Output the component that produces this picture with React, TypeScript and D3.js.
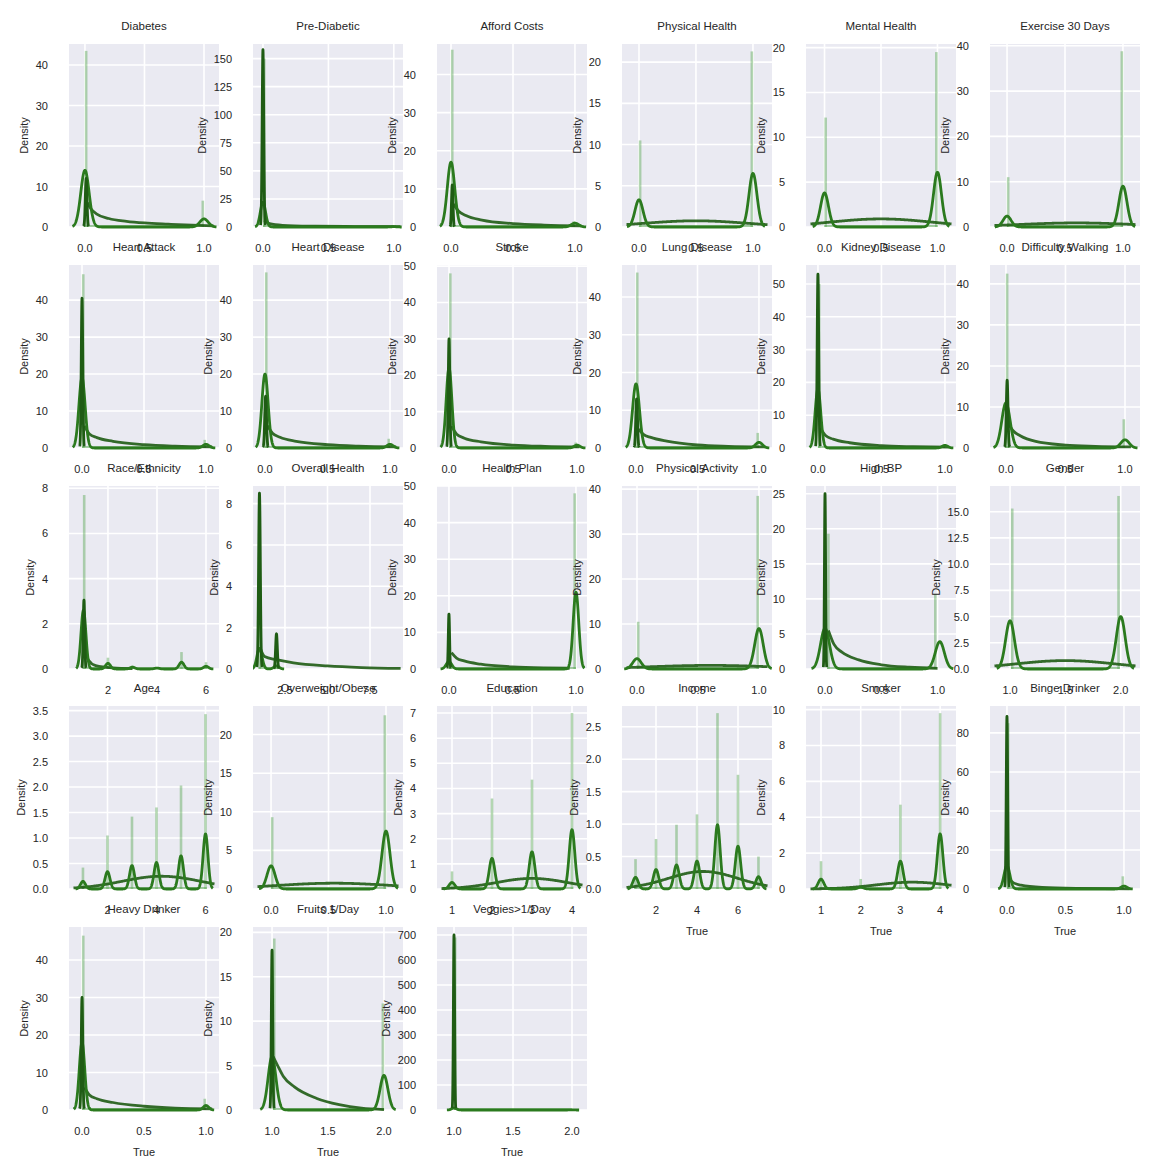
import React from 'react';
import * as d3 from 'd3';

// ---------- data ----------
const titles = [
  'Diabetes', 'Pre-Diabetic', 'Afford Costs', 'Physical Health', 'Mental Health', 'Exercise 30 Days',
  'Heart Attack', 'Heart Disease', 'Stroke', 'Lung Disease', 'Kidney Disease', 'Difficulty Walking',
  'Race/Ethnicity', 'Overall Health', 'Health Plan', 'Physical Activity', 'High BP', 'Gender',
  'Age', 'Overweight/Obese', 'Education', 'Income', 'Smoker', 'Binge Drinker',
  'Heavy Drinker', 'Fruits 1/Day', 'Veggies>1/Day',
];

const B = [0, 0.5, 1];
const xTicks: number[][] = [
  B, B, B, B, B, B,
  B, B, B, B, B, B,
  [2, 4, 6], [2.5, 5, 7.5], B, B, B, [1, 1.5, 2],
  [2, 4, 6], B, [1, 2, 3, 4], [2, 4, 6], [1, 2, 3, 4], B,
  B, [1, 1.5, 2], [1, 1.5, 2],
];

const xDomains: number[][] = [
  [-0.134, 1.126], [-0.076, 1.07], [-0.113, 1.097], [-0.149, 1.167], [-0.164, 1.164], [-0.147, 1.147],
  [-0.105, 1.105], [-0.096, 1.104], [-0.094, 1.078], [-0.114, 1.106], [-0.094, 1.087], [-0.134, 1.126],
  [0.41, 6.53], [0.62, 9.44], [-0.094, 1.087], [-0.123, 1.107], [-0.169, 1.164], [0.819, 2.174],
  [0.43, 6.55], [-0.157, 1.148], [0.625, 4.375], [0.34, 7.66], [0.622, 4.4], [-0.145, 1.137],
  [-0.105, 1.105], [0.83, 2.17], [0.856, 2.127],
];

const yMax = [
  45.2, 163, 48, 22.2, 20.4, 40.4,
  49.5, 49.5, 50.3, 48.5, 55.8, 44.6,
  8.1, 8.85, 50, 40.7, 26.1, 17.45,
  3.59, 23.7, 7.28, 2.82, 10.2, 93.8,
  48.8, 20.6, 732,
];

const T10 = [0, 10, 20, 30, 40];
const T5 = [0, 5, 10, 15, 20];
const yTicks: number[][] = [
  T10, [0, 25, 50, 75, 100, 125, 150], T10, T5, T5, T10,
  T10, T10, [0, 10, 20, 30, 40, 50], T10, [0, 10, 20, 30, 40, 50], T10,
  [0, 2, 4, 6, 8], [0, 2, 4, 6, 8], [0, 10, 20, 30, 40, 50], T10, [0, 5, 10, 15, 20, 25], [0, 2.5, 5, 7.5, 10, 12.5, 15],
  [0, 0.5, 1, 1.5, 2, 2.5, 3, 3.5], T5, [0, 1, 2, 3, 4, 5, 6, 7], [0, 0.5, 1, 1.5, 2, 2.5], [0, 2, 4, 6, 8, 10], [0, 20, 40, 60, 80],
  T10, T5, [0, 100, 200, 300, 400, 500, 600, 700],
];

// histogram bars: [x, density]
const bars: number[][][] = [
  [[0.01, 43.5], [0.99, 6.5]], [[0.01, 150], [0.99, 1]], [[0.01, 46.5], [0.99, 1.5]],
  [[0.01, 10.5], [0.99, 21.3]], [[0.01, 12.2], [0.99, 19.5]], [[0.01, 11], [0.99, 38.8]],
  [[0.01, 47], [0.99, 2.2]], [[0.01, 47.5], [0.99, 2.5]], [[0.01, 48], [0.99, 1.5]],
  [[0.01, 46.5], [0.99, 4]], [[0.01, 50], [0.99, 1]], [[0.01, 42.5], [0.99, 7]],
  [[1.03, 7.7], [2, 0.5], [3, 0.15], [4, 0.05], [5, 0.75], [6, 0.3]], [[1.02, 8], [2, 1.5]],
  [[0.01, 1], [0.99, 48]], [[0.01, 10.5], [0.99, 38.5]], [[0.03, 19.3], [0.98, 10.7]], [[1.02, 15.3], [1.98, 16.5]],
  [[1, 0.42], [2, 1.05], [3, 1.42], [4, 1.6], [5, 2.03], [6, 3.43]], [[0.01, 9.3], [0.99, 22.5]],
  [[1, 0.7], [2, 3.6], [3, 4.35], [4, 7.0]], [[1, 0.46], [2, 0.77], [3, 0.99], [4, 1.15], [5, 2.71], [6, 1.76], [7, 0.5]],
  [[1, 1.55], [2, 0.56], [3, 4.7], [4, 9.8]], [[0.01, 85], [0.99, 6.5]],
  [[0.01, 46.5], [0.99, 3]], [[1.02, 19.3], [1.99, 12]], [[1.01, 690], [1.99, 4]],
];

// KDE peaks: [x, density] with a common bandwidth per panel
const peaks: number[][][] = [
  [[0, 14], [1, 2]], [[0, 22], [1, 0.3]], [[0, 17], [1, 1]],
  [[0, 3.3], [1, 6.5]], [[0, 3.8], [1, 6.1]], [[0, 2.4], [1, 9]],
  [[0, 19], [1, 1]], [[0, 20], [1, 1]], [[0, 22], [1, 0.8]],
  [[0, 17], [1, 1.5]], [[0, 18], [1, 0.8]], [[0, 11], [1, 2]],
  [[1, 2.6], [2, 0.25], [3, 0.08], [4, 0.04], [5, 0.3], [6, 0.12]], [[1, 1.0], [2, 0.15]],
  [[0, 2], [1, 21]], [[0, 2.3], [1, 9]], [[0, 5.8], [1.02, 3.9]], [[1, 4.6], [2, 5.0]],
  [[1, 0.15], [2, 0.34], [3, 0.46], [4, 0.52], [5, 0.65], [6, 1.08]], [[0, 3], [1, 7.5]],
  [[1, 0.26], [2, 1.22], [3, 1.48], [4, 2.36]], [[1, 0.18], [2, 0.3], [3, 0.37], [4, 0.43], [5, 0.99], [6, 0.66], [7, 0.19]],
  [[1, 0.55], [2, 0.1], [3, 1.55], [4, 3.07]], [[0, 12], [1, 1.5]],
  [[0, 18], [1, 1.2]], [[1, 6], [2, 3.9]], [[1, 8], [2, 0.5]],
];
const peakSd = [
  0.035, 0.02, 0.03, 0.035, 0.035, 0.035,
  0.025, 0.025, 0.022, 0.028, 0.022, 0.035,
  0.1, 0.15, 0.022, 0.035, 0.04, 0.04,
  0.1, 0.035, 0.07, 0.13, 0.07, 0.025,
  0.022, 0.035, 0.02,
];

// narrow spikes of the second KDE: [x, density]
const spikes: number[][][] = [
  [[0.01, 12]], [[0, 158]], [[0.01, 11]], [], [], [],
  [[0, 40.5]], [[0.005, 14]], [[0, 30]], [[0.005, 13]], [[0, 53]], [[0.01, 16.5]],
  [[1.02, 3.05]], [[1, 8.5], [2, 1.7]], [[0, 15]], [], [[0, 25]], [],
  [], [], [], [], [], [[0, 88.5]],
  [[0, 30]], [[1, 18]], [[1, 700]],
];
const spikeSd = [
  0.007, 0.006, 0.006, 0, 0, 0,
  0.006, 0.007, 0.006, 0.007, 0.006, 0.007,
  0.03, 0.05, 0.005, 0, 0.005, 0,
  0, 0, 0, 0, 0, 0.006,
  0.006, 0.006, 0.005,
];

// broad KDE hump: [centre, density, bandwidth]
const broad: (number[] | null)[] = [
  null, null, null, [0.5, 0.75, 0.45], [0.5, 0.9, 0.45], [0.6, 0.9, 0.5],
  null, null, null, null, null, null,
  null, null, null, [0.6, 0.8, 0.5], null, [1.5, 0.8, 0.45],
  [4.2, 0.25, 1.6], [0.55, 0.75, 0.5], [3.0, 0.42, 0.9], [4.3, 0.27, 1.7], [3.3, 0.38, 0.9], null,
  null, null, null,
];

// long-tailed KDE: [x, density]
const tails: number[][][] = [
  [[0.02, 6], [0.05, 4.5], [0.1, 3.2], [0.2, 2.1], [0.35, 1.4], [0.5, 1.0], [0.7, 0.7], [0.9, 0.45], [1.08, 0.3]],
  [[0.01, 6], [0.05, 3], [0.15, 1.5], [0.4, 0.7], [0.7, 0.4], [1.05, 0.25]],
  [[0.02, 6], [0.06, 4.2], [0.12, 3], [0.25, 1.8], [0.5, 0.9], [0.75, 0.5], [1.05, 0.3]],
  [], [], [],
  [[0.02, 6], [0.06, 3.8], [0.12, 2.8], [0.25, 1.8], [0.5, 0.9], [0.75, 0.5], [1.05, 0.3]],
  [[0.02, 6], [0.06, 4], [0.12, 2.9], [0.25, 1.8], [0.5, 0.9], [0.75, 0.5], [1.05, 0.3]],
  [[0.02, 6], [0.06, 3.8], [0.12, 2.7], [0.25, 1.7], [0.5, 0.8], [0.75, 0.45], [1.02, 0.3]],
  [[0.02, 5], [0.06, 3.6], [0.12, 2.8], [0.25, 1.8], [0.5, 0.8], [0.75, 0.45], [1.05, 0.3]],
  [[0.02, 6], [0.06, 3.8], [0.12, 2.7], [0.25, 1.6], [0.5, 0.7], [0.75, 0.4], [1.03, 0.25]],
  [[0.02, 6], [0.06, 4.2], [0.12, 3], [0.25, 1.6], [0.5, 0.7], [0.75, 0.4], [1.05, 0.25]],
  [[1.05, 1.0], [1.2, 0.4], [1.5, 0.15], [2.2, 0.05], [3, 0.02]],
  [[1.05, 1.0], [1.3, 0.6], [2, 0.45], [3, 0.3], [5, 0.15], [7, 0.07], [9.3, 0.03]],
  [[0.02, 4.5], [0.06, 3], [0.12, 2.2], [0.25, 1.3], [0.5, 0.6], [0.75, 0.3], [0.95, 0.2]],
  [],
  [[0.03, 5.5], [0.08, 3.5], [0.15, 2.4], [0.3, 1.3], [0.5, 0.6], [0.75, 0.25], [1.0, 0.1]],
  [],
  [], [], [], [], [],
  [[0.02, 5], [0.06, 3], [0.12, 2], [0.3, 0.8], [0.6, 0.3], [1.05, 0.1]],
  [[0.02, 6], [0.06, 4], [0.12, 3], [0.25, 2], [0.5, 1], [0.75, 0.5], [1.05, 0.3]],
  [[1.01, 6], [1.05, 5], [1.1, 3.8], [1.2, 2.6], [1.4, 1.3], [1.6, 0.6], [1.8, 0.2], [2.0, 0.05]],
  [],
];

const xLabel = 'True';
const yLabel = 'Density';

// ---------- layout / style ----------
const colLeft = [69, 253, 437, 622, 806, 990];
const rowTop = [44, 265, 486, 706, 927];
const PW = 150;
const PH = 183;
const FONT = '"Liberation Sans", Arial, sans-serif';
const TXT = '#262626';
const LINE = '#2b7a1e';
const DARK = '#1f5c14';
const BAR = '#3f9a36';

function fmt(ticks: number[]) {
  const dec = ticks.some((t) => !Number.isInteger(t));
  return (t: number) => (dec ? t.toFixed(1) : String(t));
}
function textW(s: string) {
  let w = 0;
  for (const c of s) w += c === '.' ? 3.05 : 6.1;
  return w;
}
function gauss(list: number[][], sd: number) {
  return (x: number) => list.reduce((s, [m, h]) => s + h * Math.exp(-0.5 * ((x - m) / sd) ** 2), 0);
}
function sample(lo: number, hi: number, n: number) {
  return d3.range(n + 1).map((i) => lo + ((hi - lo) * i) / n);
}

function Panel({ i }: { i: number }) {
  const L = colLeft[i % 6];
  const T = rowTop[Math.floor(i / 6)];
  const x = d3.scaleLinear().domain(xDomains[i]).range([L, L + PW]);
  const y = d3.scaleLinear().domain([0, yMax[i]]).range([T + PH, T]);
  const line = d3.line<number[]>().x((d) => x(d[0])).y((d) => y(d[1]));
  const xf = fmt(xTicks[i]);
  const yf = fmt(yTicks[i]);
  const maxW = d3.max(yTicks[i], (t) => textW(yf(t))) || 0;
  const clip = `clip${i}`;

  const pk = peaks[i];
  const sd = peakSd[i];
  const pkLo = d3.min(pk, (d) => d[0])! - 3 * sd;
  const pkHi = d3.max(pk, (d) => d[0])! + 3 * sd;
  const fPk = gauss(pk, sd);
  const pkPts = sample(pkLo, pkHi, 900).map((v) => [v, fPk(v)]);

  const spPaths = spikes[i].map((s) => {
    const f = gauss([s], spikeSd[i]);
    return sample(s[0] - 3 * spikeSd[i], s[0] + 3 * spikeSd[i], 80).map((v) => [v, f(v)]);
  });

  const br = broad[i];
  const [d0, d1] = xDomains[i];
  const inset = (d1 - d0) * 0.03;
  const brPts = br
    ? sample(d0 + inset, d1 - inset, 200).map((v) => [v, br[1] * Math.exp(-0.5 * ((v - br[0]) / br[2]) ** 2)])
    : null;

  const bw = 2.6;
  const b = bars[i];
  const bLo = d3.min(b, (d) => d[0])!;
  const bHi = d3.max(b, (d) => d[0])!;

  return (
    <g>
      <defs>
        <clipPath id={clip}>
          <rect x={L} y={T - 2} width={PW} height={PH + 4} />
        </clipPath>
      </defs>
      <rect x={L} y={T} width={PW} height={PH} fill="#EAEAF2" />
      {yTicks[i].map((t) => (
        <line key={'gy' + t} x1={L} x2={L + PW} y1={y(t)} y2={y(t)} stroke="#fff" strokeWidth={1.6} />
      ))}
      {xTicks[i].map((t) => (
        <line key={'gx' + t} x1={x(t)} x2={x(t)} y1={T} y2={T + PH} stroke="#fff" strokeWidth={1.6} />
      ))}
      <g clipPath={`url(#${clip})`}>
        <line x1={x(bLo) - bw / 2} x2={x(bHi) + bw / 2} y1={y(0) - 1} y2={y(0) - 1} stroke={BAR} strokeOpacity={0.45} strokeWidth={2} />
        {b.map((d, k) => (
          <rect key={'b' + k} x={x(d[0]) - bw / 2} y={y(d[1])} width={bw} height={y(0) - y(d[1])} fill={BAR} fillOpacity={0.38} />
        ))}
        {brPts && <path d={line(brPts)!} fill="none" stroke={DARK} strokeWidth={2.8} strokeOpacity={0.9} />}
        {tails[i].length > 0 && (
          <path d={d3.line<number[]>().x((d) => x(d[0])).y((d) => y(d[1])).curve(d3.curveMonotoneX)(tails[i])!}
            fill="none" stroke={DARK} strokeWidth={2.8} strokeOpacity={0.9} />
        )}
        <path d={line(pkPts)!} fill="none" stroke={LINE} strokeWidth={2.8} strokeLinejoin="round" />
        {spPaths.map((p, k) => (
          <path key={'s' + k} d={line(p)!} fill="none" stroke={DARK} strokeWidth={2.8} strokeLinejoin="round" />
        ))}
      </g>
      <g fontFamily={FONT} fontSize={11} fill={TXT}>
        {yTicks[i].map((t) => (
          <text key={'ty' + t} x={L - 21} y={y(t)} textAnchor="end" dominantBaseline="central">{yf(t)}</text>
        ))}
        {xTicks[i].map((t) => (
          <text key={'tx' + t} x={x(t)} y={T + PH + 21} textAnchor="middle" dominantBaseline="central">{xf(t)}</text>
        ))}
        <text x={L - 21 - maxW - 12} y={T + PH / 2} textAnchor="middle" dominantBaseline="central"
          transform={`rotate(-90, ${L - 21 - maxW - 12}, ${T + PH / 2})`}>{yLabel}</text>
        <text x={L + PW / 2} y={T + PH + 42} textAnchor="middle" dominantBaseline="central">{xLabel}</text>
        <text x={L + PW / 2} y={T - 18} textAnchor="middle" dominantBaseline="central" fontSize={11.5}>{titles[i]}</text>
      </g>
    </g>
  );
}

export default function App() {
  return (
    <svg width={1166} height={1166} style={{ position: 'absolute', left: 0, top: 0, background: '#fff' }}>
      <rect x={0} y={0} width={1166} height={1166} fill="#fff" />
      {titles.map((_, i) => (
        <Panel key={i} i={i} />
      ))}
    </svg>
  );
}
